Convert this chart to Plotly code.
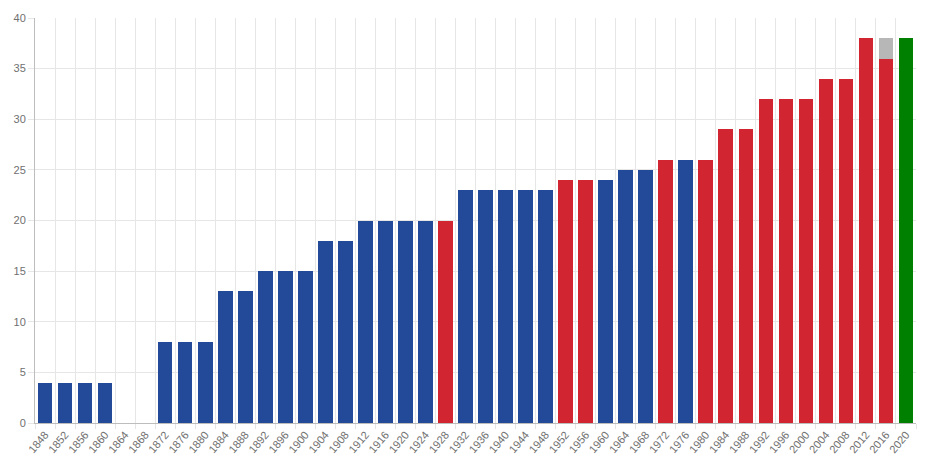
import plotly.graph_objects as go

blue = '#234a99'
red = '#d22532'
green = '#008000'
gray = '#b7b7b7'

years = [str(y) for y in range(1848, 2024, 4)]
votes = [4, 4, 4, 4, 0, 0, 8, 8, 8, 13, 13, 15, 15, 15, 18, 18, 20, 20, 20, 20, 20,
         23, 23, 23, 23, 23, 24, 24, 24, 25, 25, 26, 26, 26, 29, 29, 32, 32, 32, 34, 34,
         38, 36, 38]
party = ['D', 'D', 'D', 'D', '', '', 'D', 'D', 'D', 'D', 'D', 'D', 'D', 'D', 'D', 'D',
         'D', 'D', 'D', 'D', 'R', 'D', 'D', 'D', 'D', 'D', 'R', 'R', 'D', 'D', 'D', 'R',
         'D', 'R', 'R', 'R', 'R', 'R', 'R', 'R', 'R', 'R', 'R', 'G']
other = [0] * 42 + [2, 0]

party_color = {'D': blue, 'R': red, 'G': green, '': blue}

fig = go.Figure()
fig.add_trace(go.Bar(x=years, y=votes, marker_color=[party_color[p] for p in party],
                     marker_line_width=0, hoverinfo='x+y'))
fig.add_trace(go.Bar(x=years, y=other, marker_color=gray, marker_line_width=0))

# page body adds an 8px margin, so the figure is a bit smaller than the window
fig.update_layout(
    width=924, height=462,
    barmode='stack', bargap=0.27, showlegend=False,
    paper_bgcolor='white', plot_bgcolor='white',
    margin=dict(l=27, r=16, t=10, b=47),
    font=dict(family='Arial, Liberation Sans, sans-serif', color='#707070', size=11),
)
fig.update_xaxes(type='category', tickson='boundaries', showgrid=True, gridcolor='#e6e6e6',
                 gridwidth=1, tickangle=-50, tickfont=dict(size=11),
                 ticks='outside', ticklen=5, tickcolor='#e6e6e6',
                 showline=True, linecolor='#bdbdbd', linewidth=1, automargin=False)
fig.update_yaxes(range=[0, 40], dtick=5, showgrid=True, gridcolor='#e6e6e6', zeroline=False,
                 ticks='outside', ticklen=6, tickcolor='#e6e6e6',
                 showline=True, linecolor='#bdbdbd', linewidth=1, tickfont=dict(size=11),
                 automargin=False)

fig.write_html("out.html")
